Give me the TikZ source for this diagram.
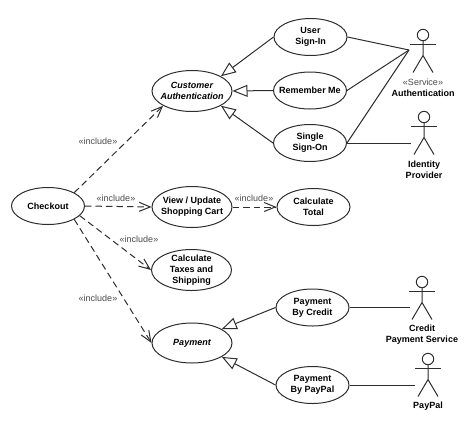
\documentclass[tikz,border=0pt]{standalone}
\usepackage{fontspec}
\setmainfont{Liberation Sans}
\usetikzlibrary{arrows.meta, shapes.geometric}
\definecolor{cline}{HTML}{2E2E2E}
\definecolor{cnote}{HTML}{4A4A4A}
\tikzset{
  every picture/.style={line width=1pt, x=1pt, y=-1pt},
  usecase/.style={draw=cline, ellipse, inner xsep=-20pt, inner ysep=-5pt, minimum width=73pt, minimum height=37pt, align=center, font=\fontsize{9}{11}\selectfont\bfseries},
  bigcase/.style={usecase, minimum width=80pt, minimum height=41pt},
  abstract/.style={bigcase, font=\fontsize{9}{11}\selectfont\bfseries\itshape},
  head/.style={draw=cline, circle, inner sep=0pt, minimum size=11.4pt},
  stick/.style={draw=cline},
  role/.style={align=center, inner sep=0pt, font=\fontsize{9}{11}\selectfont\bfseries},
  note/.style={inner sep=0pt, text=cnote, font=\fontsize{9}{11}\selectfont},
  assoc/.style={draw=cline},
  extends/.style={draw=cline, -{Triangle[open, length=15pt, width=12pt]}},
  incl/.style={draw=cline, dash pattern=on 6.5pt off 4pt, -{Straight Barb[length=11pt, width=9pt]}},
}
\begin{document}
\begin{tikzpicture}
  \useasboundingbox (0,0) rectangle (474,424);
  % use cases
  \node[usecase] (checkout) at (48,206) {Checkout};
  \node[abstract] (customer) at (192,91) {Customer\\Authentication};
  \node[bigcase] (cart) at (192,207) {View / Update\\Shopping Cart};
  \node[bigcase] (taxes) at (191.5,270) {Calculate\\Taxes and\\Shipping};
  \node[abstract, minimum height=40pt] (payment) at (192,343) {Payment};
  \node[usecase] (signin) at (310.5,37) {User\\Sign-In};
  \node[usecase] (remember) at (310,90.5) {Remember Me};
  \node[usecase] (single) at (310,143) {Single\\Sign-On};
  \node[usecase] (total) at (313.5,207) {Calculate\\Total};
  \node[usecase] (credit) at (312.5,307.5) {Payment\\By Credit};
  \node[usecase] (paypal) at (312.5,385) {Payment\\By PayPal};
  % actors
  \foreach \n/\x/\y in {authActor/423/35, idpActor/424/117, creditActor/422/282, paypalActor/428/359} {
    \node[head] (\n) at (\x,\y) {};
    \draw[stick] (\n.south) -- ++(0,14.3) ++(-10,17) -- ++(10,-17) -- ++(10,17);
    \draw[stick] (\n.south) ++(-13,3.3) -- ++(26,0);
  }
  \node[role] (authName) at (423,87.5) {{\mdseries\color{cnote}«Service»}\\Authentication};
  \node[role] (idpName) at (424,169.5) {Identity\\Provider};
  \node[role] (creditName) at (422,334.5) {Credit\\Payment Service};
  \node[role] (paypalName) at (428,406) {PayPal};
  \coordinate (authEnd) at (409,50);
  \coordinate (idpEnd) at (411,143);
  \coordinate (creditEnd) at (410,307.5);
  \coordinate (paypalEnd) at (415,385);
  % generalisation
  \draw[extends] (signin.west) -- (customer.27);
  \draw[extends] (remember.west) -- (customer.east);
  \draw[extends] (single.west) -- (customer.-27);
  \draw[extends] (credit.west) -- (payment.25);
  \draw[extends] (paypal.west) -- (payment.-25);
  % actor links
  \draw[assoc] (signin.east) -- (authEnd);
  \draw[assoc] (remember.east) -- (authEnd);
  \draw[assoc] (single.east) -- (authEnd);
  \draw[assoc] (single.east) -- (idpEnd);
  \draw[assoc] (credit.east) -- (creditEnd);
  \draw[assoc] (paypal.east) -- (paypalEnd);
  % includes
  \draw[incl] (checkout.27) -- (customer.207);
  \draw[incl] (checkout.east) -- (cart.west);
  \draw[incl] (cart.east) -- (total.west);
  \draw[incl] (checkout.-17) -- (taxes.west);
  \draw[incl] (checkout.-27) -- (payment.west);
  \node[note] (inclCustomer) at (98,141) {«include»};
  \node[note] (inclCart) at (116,198) {«include»};
  \node[note] (inclTotal) at (254,198) {«include»};
  \node[note] (inclTaxes) at (139,239) {«include»};
  \node[note] (inclPayment) at (98,298) {«include»};
\end{tikzpicture}
\end{document}
